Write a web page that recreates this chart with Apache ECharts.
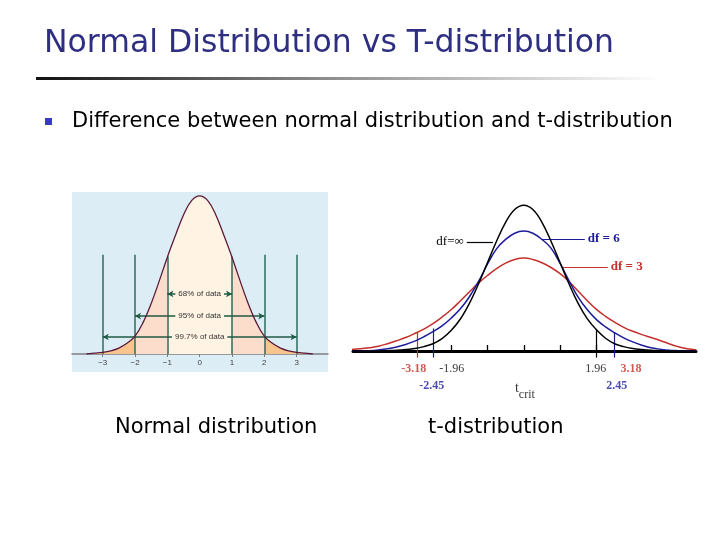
<!DOCTYPE html>
<html>
<head>
<meta charset="utf-8">
<script src="https://cdn.jsdelivr.net/npm/echarts@6/dist/echarts.min.js"></script>
<style>
  html, body { margin: 0; padding: 0; background: #fff; }
  #main { width: 720px; height: 540px; }
</style>
</head>
<body>
<div id="main"></div>
<script>
// left panel: normal curve
var normX = [-3.5, -3.25, -3, -2.75, -2.5, -2.25, -2, -1.75, -1.5, -1.25, -1, -0.75, -0.5, -0.25, 0,
  0.25, 0.5, 0.75, 1, 1.25, 1.5, 1.75, 2, 2.25, 2.5, 2.75, 3, 3.25, 3.5];
var normY = [0, 0.002, 0.004, 0.008, 0.015, 0.027, 0.045, 0.080, 0.128, 0.185, 0.245, 0.300, 0.352, 0.388, 0.400,
  0.388, 0.352, 0.300, 0.245, 0.185, 0.128, 0.080, 0.045, 0.027, 0.015, 0.008, 0.004, 0.002, 0];
var normTicks = [-3, -2, -1, 0, 1, 2, 3];
var sigmaX = [-3, -2, -1, 1, 2, 3];
var sigmaTop = [0.251, 0.251, 0.247, 0.247, 0.251, 0.251];
var arrowLabels = ["68% of data", "95% of data", "99.7% of data"];
var arrowHalf = [1, 2, 3];
var arrowY = [0.152, 0.096, 0.043];
var bandEdges = [-2, -1, 1, 2];

// right panel: t curves
var tX = [-4.75, -4.5, -4.25, -4, -3.75, -3.5, -3.25, -3, -2.75, -2.5, -2.25, -2, -1.75, -1.5, -1.25, -1, -0.75, -0.5, -0.25, 0,
  0.25, 0.5, 0.75, 1, 1.25, 1.5, 1.75, 2, 2.25, 2.5, 2.75, 3, 3.25, 3.5, 3.75, 4, 4.25, 4.5, 4.75];
var dfInf = [0, 0, 0, 0, 0.001, 0.002, 0.004, 0.007, 0.012, 0.020, 0.034, 0.056, 0.087, 0.130, 0.183, 0.242, 0.301, 0.353, 0.388, 0.400,
  0.388, 0.353, 0.301, 0.242, 0.183, 0.130, 0.088, 0.058, 0.035, 0.020, 0.012, 0.007, 0.004, 0.002, 0.001, 0, 0, 0, 0];
var df6 = [0, 0, 0.001, 0.003, 0.006, 0.011, 0.018, 0.027, 0.039, 0.053, 0.069, 0.090, 0.115, 0.148, 0.190, 0.238, 0.280, 0.306, 0.323, 0.329,
  0.323, 0.306, 0.282, 0.240, 0.192, 0.147, 0.113, 0.086, 0.066, 0.050, 0.036, 0.025, 0.016, 0.009, 0.005, 0.002, 0.001, 0, 0];
var df3 = [0.004, 0.006, 0.009, 0.013, 0.020, 0.028, 0.037, 0.048, 0.060, 0.075, 0.093, 0.113, 0.137, 0.162, 0.186, 0.207, 0.226, 0.241, 0.251, 0.255,
  0.251, 0.242, 0.229, 0.212, 0.190, 0.164, 0.138, 0.114, 0.095, 0.079, 0.065, 0.054, 0.045, 0.037, 0.029, 0.020, 0.012, 0.006, 0.003];
var tTicks = [-2, -1, 0, 1, 2];
var critX = [-2.92, -2.5, 2.0, 2.48];
var critTop = [0.052, 0.062, 0.060, 0.052];
var critCurve = ["df3", "df6", "inf", "df6"];
var critText = ["-3.18", "-1.96", "-2.45", "1.96", "3.18", "2.45"];
var critTextX = [-3.03, -1.98, -2.53, 1.98, 2.95, 2.56];
var critTextY = [-0.049, -0.049, -0.096, -0.049, -0.049, -0.096];
var critTextCurve = ["df3", "inf", "df6", "inf", "df3", "df6"];
var dfText = ["df=∞", "df = 6", "df = 3"];
var dfCurve = ["inf", "df6", "df3"];
var leaderX0 = [-1.57, 0.5, 1.05];
var leaderX1 = [-0.85, 1.68, 2.31];
var leaderY = [0.299, 0.307, 0.230];

var colors = { inf: "#000000", df6: "#1c1c9a", df3: "#c4302c" };
var bandColors = ["#f8c48e", "#fcdccb", "#fff3e3", "#fcdccb", "#f8c48e"];

function pairs(xs, ys) {
  return xs.map(function (x, i) { return [x, ys[i]]; });
}

var myChart = echarts.init(document.getElementById("main")),
  series = [],
  normPts = pairs(normX, normY),
  edges = [-Infinity].concat(bandEdges, [Infinity]);

// coloured bands under the normal curve
for (let b = 0; b < edges.length - 1; b++) {
  series.push({
    type: "line",
    xAxisIndex: 0,
    yAxisIndex: 0,
    smooth: 0.4,
    symbol: "none",
    silent: true,
    lineStyle: { width: 0 },
    areaStyle: { color: bandColors[b], opacity: 1 },
    z: 1,
    data: normPts.filter(function (p) { return p[0] >= edges[b] && p[0] <= edges[b + 1]; })
  });
}

// sigma lines
series.push({
  type: "line",
  xAxisIndex: 0,
  yAxisIndex: 0,
  data: [],
  z: 3,
  markLine: {
    silent: true,
    symbol: ["none", "none"],
    label: { show: false },
    lineStyle: { color: "#2f6b5b", width: 1.5, type: "solid" },
    data: sigmaX.map(function (x, i) {
      return [{ coord: [x, 0] }, { coord: [x, sigmaTop[i]] }];
    })
  }
});

// arrows with percentages
series.push({
  type: "line",
  xAxisIndex: 0,
  yAxisIndex: 0,
  data: [],
  z: 4,
  markLine: {
    silent: true,
    symbol: ["arrow", "arrow"],
    symbolSize: [5, 6],
    lineStyle: { color: "#1f5a45", width: 1.5, type: "solid" },
    label: {
      show: true,
      position: "insideMiddle",
      color: "#333",
      fontSize: 8,
      fontFamily: "Liberation Sans",
      backgroundColor: "#fff3e3",
      padding: [1, 3],
      distance: 0
    },
    data: arrowLabels.map(function (t, i) {
      return [
        { coord: [-arrowHalf[i], arrowY[i]], label: { formatter: t } },
        { coord: [arrowHalf[i], arrowY[i]] }
      ];
    })
  }
});

// normal curve
series.push({
  type: "line",
  xAxisIndex: 0,
  yAxisIndex: 0,
  smooth: 0.4,
  symbol: "none",
  z: 5,
  lineStyle: { color: "#5c1a3a", width: 1.3 },
  data: normPts
});

// t curves
[["df3", df3], ["df6", df6], ["inf", dfInf]].forEach(function (c) {
  series.push({
    name: c[0],
    type: "line",
    xAxisIndex: 1,
    yAxisIndex: 1,
    smooth: 0.4,
    symbol: "none",
    z: 5,
    lineStyle: { color: colors[c[0]], width: 1.5 },
    data: pairs(tX, c[1])
  });
});

// critical value lines + df leaders
series.push({
  type: "line",
  xAxisIndex: 1,
  yAxisIndex: 1,
  data: [],
  z: 4,
  markLine: {
    silent: true,
    symbol: ["none", "none"],
    data: critX.map(function (x, i) {
      return [
        { coord: [x, -0.018], lineStyle: { color: colors[critCurve[i]], width: 1.2, type: "solid" }, label: { show: false } },
        { coord: [x, critTop[i]] }
      ];
    }).concat(dfText.map(function (t, i) {
      return [
        {
          coord: [leaderX0[i], leaderY[i]],
          lineStyle: { color: colors[dfCurve[i]], width: 1.2, type: "solid" },
          label: {
            show: true,
            formatter: t,
            position: i === 0 ? "start" : "end",
            distance: 3,
            color: colors[dfCurve[i]],
            fontFamily: "Liberation Serif",
            fontWeight: i === 0 ? "normal" : "bold",
            fontSize: 13
          }
        },
        { coord: [leaderX1[i], leaderY[i]] }
      ];
    }))
  }
});

// critical value labels
series.push({
  type: "scatter",
  xAxisIndex: 1,
  yAxisIndex: 1,
  symbolSize: 0,
  silent: true,
  data: critText.map(function (t, i) {
    return {
      value: [critTextX[i], critTextY[i]],
      label: {
        show: true,
        position: "inside",
        formatter: t,
        color: colors[critTextCurve[i]],
        fontFamily: "Liberation Serif",
        fontWeight: critTextCurve[i] === "inf" ? "normal" : "bold",
        fontSize: 12
      }
    };
  }).concat([{
    value: [0.03, -0.11],
    label: {
      show: true,
      position: "inside",
      formatter: "{t|t}{s|crit}",
      rich: {
        t: { fontFamily: "Liberation Serif", fontSize: 14, color: "#000", verticalAlign: "top", padding: [0, 0, 6, 0] },
        s: { fontFamily: "Liberation Serif", fontSize: 12, color: "#000", verticalAlign: "bottom", padding: [6, 0, 0, 0] }
      }
    }
  }])
});

var option = {
  animation: false,
  grid: [
    { left: 72, top: 192, width: 256, height: 162, show: false },
    { left: 353, top: 192, width: 343, height: 221, show: false }
  ],
  xAxis: [
    {
      type: "value",
      gridIndex: 0,
      min: -3.95,
      max: 3.97,
      splitLine: { show: false },
      axisLine: { lineStyle: { color: "#7d7d7d", width: 1.5 } },
      axisTick: { show: true, customValues: normTicks, length: 3, lineStyle: { color: "#7d7d7d" } },
      axisLabel: {
        customValues: normTicks,
        margin: 5,
        fontSize: 8,
        color: "#444",
        fontFamily: "Liberation Sans",
        formatter: function (v) { return v < 0 ? "\u2212" + Math.abs(v) : String(v); }
      }
    },
    {
      type: "value",
      gridIndex: 1,
      min: -4.7,
      max: 4.74,
      splitLine: { show: false },
      axisLine: { onZero: true, lineStyle: { color: "#000", width: 3 } },
      axisTick: { show: true, inside: true, customValues: tTicks, length: 6, lineStyle: { color: "#000", width: 1.3 } },
      axisLabel: { show: false }
    }
  ],
  yAxis: [
    { type: "value", gridIndex: 0, min: 0, max: 0.41, show: false, splitLine: { show: false } },
    { type: "value", gridIndex: 1, min: -0.17, max: 0.436, show: false, splitLine: { show: false } }
  ],
  graphic: [
    // light blue panel behind the normal curve
    { type: "rect", z: -10, shape: { x: 72, y: 192, width: 256, height: 180 }, style: { fill: "#dcedf5" } },
    {
      type: "text",
      left: 44,
      top: 28,
      style: { text: "Normal Distribution vs T-distribution", font: "31.5px 'DejaVu Sans'", fill: "#2f2f82" }
    },
    {
      type: "rect",
      shape: { x: 36, y: 77, width: 626, height: 3 },
      style: {
        fill: new echarts.graphic.LinearGradient(0, 0, 1, 0, [
          { offset: 0, color: "#111111" },
          { offset: 0.45, color: "#8a8a8a" },
          { offset: 1, color: "#ffffff" }
        ])
      }
    },
    { type: "rect", shape: { x: 45, y: 118, width: 7, height: 7 }, style: { fill: "#3a3ac8" } },
    {
      type: "text",
      left: 72,
      top: 111,
      style: { text: "Difference between normal distribution and t-distribution", font: "21px 'DejaVu Sans'", fill: "#000" }
    },
    {
      type: "text",
      left: 115,
      top: 417,
      style: { text: "Normal distribution", font: "21px 'DejaVu Sans'", fill: "#000" }
    },
    {
      type: "text",
      left: 428,
      top: 417,
      style: { text: "t-distribution", font: "21px 'DejaVu Sans'", fill: "#000" }
    }
  ],
  series: series
};

if (option && typeof option === "object") {
  myChart.setOption(option);
}
</script>
</body>
</html>
